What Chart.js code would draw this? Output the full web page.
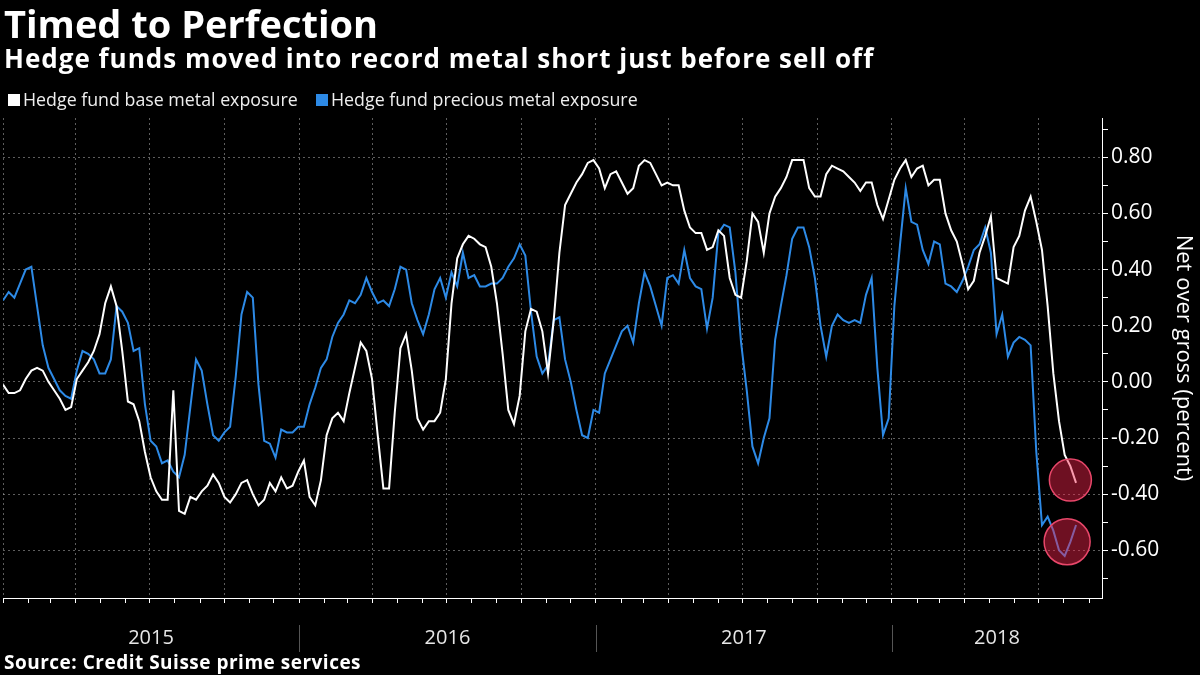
<!DOCTYPE html>
<html>
<head>
<meta charset="utf-8">
<title>Timed to Perfection</title>
<script src="https://cdn.jsdelivr.net/npm/chart.js@4.4.1/dist/chart.umd.min.js"></script>
<style>
    html, body { margin: 0; padding: 0; background: #000; }
    .wrap { position: relative; width: 1200px; height: 675px; overflow: hidden; background: #000;
            font-family: 'Open Sans', sans-serif; color: #fff; }
    #myChart { position: absolute; left: 0; top: 0; }
    .title { position: absolute; left: 4px; top: 4px; font-size: 38px; line-height: 38px; font-weight: 700; white-space: nowrap; }
    .subtitle { position: absolute; left: 4px; top: 45px; font-size: 26px; line-height: 26px; font-weight: 700; letter-spacing: 1px; white-space: nowrap; }
    .legend span { position: absolute; white-space: nowrap; }
    .source { position: absolute; left: 4px; top: 653px; font-size: 19px; line-height: 19px; font-weight: 700; letter-spacing: 0.5px; white-space: nowrap; }
</style>
</head>
<body>
<div class="wrap">
    <canvas id="myChart" width="1200" height="675"></canvas>
    <div class="title">Timed to Perfection</div>
    <div class="subtitle">Hedge funds moved into record metal short just before sell off</div>
    <div class="legend"></div>
    <div class="source">Source: Credit Suisse prime services</div>
</div>
<script>
// weekly readings, first one on 2015-01-01, x axis counted in days from that date
const startYear = 2015;
const yearLabels = [2015, 2016, 2017, 2018];
const axisEndDay = 1355; // ~ mid Sept 2018

const seriesLabels = ['Hedge fund base metal exposure', 'Hedge fund precious metal exposure'];
const seriesColors = ['#ffffff', '#2d8ae6'];

// Hedge fund base metal exposure (net over gross)
const baseExposure = [
    -0.01, -0.04, -0.04, -0.03, 0.01, 0.04, 0.05, 0.04, 0.00, -0.03,
    -0.06, -0.10, -0.09, 0.01, 0.04, 0.07, 0.11, 0.17, 0.28, 0.34,
    0.27, 0.11, -0.07, -0.08, -0.14, -0.25, -0.34, -0.39, -0.42, -0.42,
    -0.03, -0.46, -0.47, -0.41, -0.42, -0.39, -0.37, -0.33, -0.36, -0.41,
    -0.43, -0.40, -0.36, -0.35, -0.40, -0.44, -0.42, -0.36, -0.39, -0.34,
    -0.38, -0.37, -0.32, -0.28, -0.41, -0.44, -0.35, -0.19, -0.13, -0.11,
    -0.14, -0.04, 0.05, 0.14, 0.11, 0.01, -0.19, -0.38, -0.38, -0.11,
    0.12, 0.17, 0.04, -0.13, -0.17, -0.14, -0.14, -0.11, 0.01, 0.28,
    0.44, 0.49, 0.52, 0.51, 0.49, 0.48, 0.41, 0.28, 0.10, -0.10,
    -0.15, -0.05, 0.18, 0.26, 0.25, 0.18, 0.03, 0.22, 0.46, 0.63,
    0.67, 0.71, 0.74, 0.78, 0.79, 0.76, 0.69, 0.74, 0.75, 0.71,
    0.67, 0.69, 0.77, 0.79, 0.78, 0.74, 0.70, 0.71, 0.70, 0.70,
    0.61, 0.55, 0.53, 0.53, 0.47, 0.48, 0.54, 0.52, 0.37, 0.31,
    0.30, 0.43, 0.60, 0.57, 0.46, 0.60, 0.66, 0.69, 0.73, 0.79,
    0.79, 0.79, 0.69, 0.66, 0.66, 0.74, 0.77, 0.76, 0.75, 0.73,
    0.71, 0.68, 0.71, 0.71, 0.63, 0.58, 0.65, 0.72, 0.76, 0.79,
    0.73, 0.76, 0.77, 0.70, 0.72, 0.72, 0.60, 0.54, 0.50, 0.42,
    0.33, 0.36, 0.46, 0.52, 0.59, 0.37, 0.36, 0.35, 0.48, 0.52,
    0.61, 0.66, 0.57, 0.47, 0.27, 0.03, -0.14, -0.26, -0.30, -0.36
];

// Hedge fund precious metal exposure (net over gross)
const preciousExposure = [
    0.29, 0.32, 0.30, 0.35, 0.40, 0.41, 0.27, 0.13, 0.05, 0.01,
    -0.03, -0.05, -0.06, 0.04, 0.11, 0.10, 0.08, 0.03, 0.03, 0.08,
    0.27, 0.25, 0.21, 0.11, 0.12, -0.08, -0.21, -0.23, -0.29, -0.28,
    -0.32, -0.34, -0.26, -0.09, 0.08, 0.04, -0.08, -0.19, -0.21, -0.18,
    -0.16, 0.02, 0.24, 0.32, 0.30, -0.01, -0.21, -0.22, -0.27, -0.17,
    -0.18, -0.18, -0.16, -0.16, -0.08, -0.02, 0.05, 0.08, 0.16, 0.21,
    0.24, 0.29, 0.28, 0.31, 0.37, 0.32, 0.28, 0.29, 0.27, 0.33,
    0.41, 0.40, 0.28, 0.22, 0.17, 0.24, 0.33, 0.37, 0.30, 0.39,
    0.34, 0.46, 0.37, 0.38, 0.34, 0.34, 0.35, 0.35, 0.37, 0.41,
    0.44, 0.49, 0.45, 0.25, 0.09, 0.03, 0.06, 0.22, 0.23, 0.08,
    0.00, -0.10, -0.19, -0.20, -0.10, -0.11, 0.03, 0.08, 0.13, 0.18,
    0.20, 0.14, 0.28, 0.39, 0.34, 0.27, 0.20, 0.37, 0.38, 0.35,
    0.47, 0.37, 0.34, 0.33, 0.19, 0.30, 0.53, 0.56, 0.55, 0.39,
    0.14, -0.03, -0.23, -0.29, -0.20, -0.13, 0.15, 0.27, 0.38, 0.51,
    0.55, 0.55, 0.48, 0.37, 0.20, 0.09, 0.20, 0.24, 0.22, 0.21,
    0.22, 0.21, 0.31, 0.37, 0.05, -0.19, -0.13, 0.27, 0.49, 0.69,
    0.57, 0.56, 0.47, 0.42, 0.50, 0.49, 0.35, 0.34, 0.32, 0.36,
    0.41, 0.47, 0.49, 0.55, 0.46, 0.17, 0.24, 0.09, 0.14, 0.16,
    0.15, 0.13, -0.25, -0.51, -0.48, -0.53, -0.60, -0.62, -0.57, -0.51
];

// the two highlight circles at the latest readings (day, value, radius px)
const highlightDays = [1316, 1312];
const highlightValues = [-0.35, -0.57];
const highlightRadii = [21, 23];

const yTicks = [-0.7, -0.6, -0.5, -0.4, -0.3, -0.2, -0.1, 0, 0.1, 0.2, 0.3, 0.4, 0.5, 0.6, 0.7, 0.8, 0.9];

document.addEventListener('DOMContentLoaded', function () {
    const DAY = 86400000;
    const t0 = Date.UTC(startYear, 0, 1);
    const dayOf = (y, m) => (Date.UTC(y, m, 1) - t0) / DAY;

    const weekDays = baseExposure.map((v, i) => i * 7);

    // month ticks and quarter grid lines
    const monthTicks = [];
    const quarterTicks = new Set();
    for (let y = startYear; y <= 2018; y++) {
        for (let m = 0; m < 12; m++) {
            const d = dayOf(y, m);
            if (d > axisEndDay) continue;
            monthTicks.push(d);
            if (m % 3 === 0) quarterTicks.add(d);
        }
    }

    const gridColor = 'rgba(170,170,170,0.55)';
    const isMajor = v => Math.abs(Math.round(v * 10)) % 2 === 0;

    const yearAxis = {
        id: 'yearAxis',
        afterDraw(chart) {
            const ctx = chart.ctx;
            const x = chart.scales.x;
            ctx.save();
            ctx.font = '20px "Open Sans"';
            ctx.fillStyle = '#e6e6e6';
            ctx.textAlign = 'center';
            ctx.textBaseline = 'middle';
            ctx.strokeStyle = '#555';
            ctx.lineWidth = 1;
            yearLabels.forEach((yr, k) => {
                const a = Math.max(x.getPixelForValue(dayOf(yr, 0)), x.left);
                const b = Math.min(x.getPixelForValue(dayOf(yr + 1, 0)), x.right);
                ctx.fillText(String(yr), (a + b) / 2, 638);
                if (k > 0) {
                    ctx.beginPath();
                    ctx.moveTo(Math.round(a) + 0.5, 625);
                    ctx.lineTo(Math.round(a) + 0.5, 652);
                    ctx.stroke();
                }
            });
            ctx.restore();
        }
    };

    const data = {
        datasets: [{
            type: 'line',
            label: seriesLabels[0],
            data: weekDays.map((d, i) => ({ x: d, y: baseExposure[i] })),
            borderColor: seriesColors[0],
            borderWidth: 2,
            pointRadius: 0,
            tension: 0,
            order: 1
        }, {
            type: 'line',
            label: seriesLabels[1],
            data: weekDays.map((d, i) => ({ x: d, y: preciousExposure[i] })),
            borderColor: seriesColors[1],
            borderWidth: 2,
            pointRadius: 0,
            tension: 0,
            order: 2
        }, {
            type: 'bubble',
            label: 'highlight',
            data: highlightDays.map((d, i) => ({ x: d, y: highlightValues[i], r: highlightRadii[i] })),
            backgroundColor: 'rgba(245,35,75,0.45)',
            borderColor: '#e8476a',
            borderWidth: 1.5,
            order: 0
        }]
    };

    const config = {
        type: 'line',
        data: data,
        options: {
            responsive: false,
            animation: false,
            devicePixelRatio: 1,
            layout: { autoPadding: false, padding: { top: 118, left: 0, right: 0, bottom: 0 } },
            plugins: {
                legend: { display: false },
                tooltip: { enabled: false }
            },
            scales: {
                x: {
                    type: 'linear',
                    position: 'bottom',
                    min: 0,
                    max: axisEndDay,
                    afterBuildTicks: s => { s.ticks = monthTicks.map(v => ({ value: v })); },
                    afterFit: s => { s.height = 77; },
                    ticks: { autoSkip: false, maxRotation: 0, callback: () => [] },
                    grid: {
                        color: c => (c.tick && quarterTicks.has(c.tick.value)) ? gridColor : 'transparent',
                        tickColor: '#fff',
                        tickLength: 5,
                        tickBorderDash: []
                    },
                    border: { color: '#fff', width: 1, dash: [2, 3] }
                },
                y: {
                    position: 'right',
                    min: -0.77,
                    max: 0.94,
                    afterBuildTicks: s => { s.ticks = yTicks.map(v => ({ value: v })); },
                    afterFit: s => { s.width = 98; },
                    ticks: {
                        color: '#fff',
                        padding: 3,
                        font: { family: 'Open Sans', size: 21 },
                        callback: v => isMajor(v) ? v.toFixed(2) : []
                    },
                    grid: {
                        color: c => (c.tick && isMajor(c.tick.value)) ? gridColor : 'transparent',
                        tickColor: '#fff',
                        tickLength: 6,
                        tickBorderDash: []
                    },
                    border: { color: '#fff', width: 1, dash: [2, 3] },
                    title: {
                        display: true,
                        text: 'Net over gross (percent)',
                        color: '#fff',
                        font: { family: 'Open Sans', size: 22 },
                        padding: { top: 4, bottom: 0 }
                    }
                }
            }
        },
        plugins: [yearAxis]
    };

    const chart = new Chart(document.getElementById('myChart').getContext('2d'), config);

    // legend as text, built from the line datasets
    const legend = document.querySelector('.legend');
    const legendX = [8, 316];
    chart.data.datasets.filter(ds => ds.type === 'line').forEach((ds, i) => {
        const box = document.createElement('span');
        box.style.left = legendX[i] + 'px';
        box.style.top = '94px';
        box.style.width = '12px';
        box.style.height = '12px';
        box.style.backgroundColor = ds.borderColor;
        legend.appendChild(box);

        const txt = document.createElement('span');
        txt.textContent = ds.label;
        txt.style.left = (legendX[i] + 15) + 'px';
        txt.style.top = '90px';
        txt.style.fontSize = '17.8px';
        txt.style.lineHeight = '18px';
        txt.style.color = '#eee';
        legend.appendChild(txt);
    });
});
</script>
</body>
</html>
